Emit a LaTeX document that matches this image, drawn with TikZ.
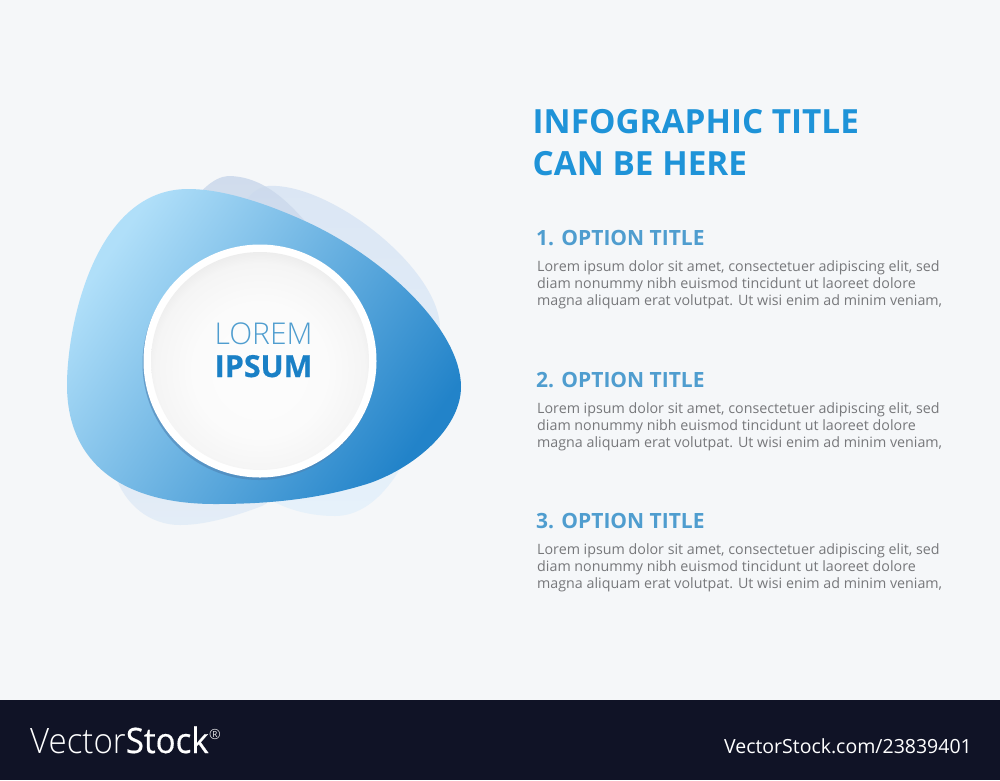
\documentclass[tikz,border=0pt]{standalone}
\usepackage{fontspec}
\setmainfont{Open Sans}
\newfontfamily\lightfont{Open Sans Light}
\newfontfamily\semifont[FakeBold=0.5]{Open Sans}
\newfontfamily\heavyfont[BoldFeatures={FakeBold=0.6}]{Open Sans}
\usepackage{xcolor}
\usetikzlibrary{positioning}
\definecolor{pagegray}{HTML}{F5F7F9}
\definecolor{barnavy}{HTML}{101326}
\definecolor{titleblue}{HTML}{1E93D8}
\definecolor{optionblue}{HTML}{4F9DCF}
\definecolor{bodygray}{HTML}{77787B}
\definecolor{loremblue}{HTML}{4F9DCF}
\definecolor{ipsumblue}{HTML}{1A80C6}
\definecolor{blobhigh}{HTML}{B0DFF9}
\definecolor{blobmid}{HTML}{7FB6E4}
\definecolor{bloblow}{HTML}{2283C9}
\definecolor{haloshadow}{HTML}{4F83B4}
\definecolor{backtop}{HTML}{CAD8EB}
\definecolor{backlow}{HTML}{E1ECF7}
\definecolor{sidetop}{HTML}{DBE6F4}
\definecolor{sidelow}{HTML}{E6F1FA}
\pgfdeclareradialshading{discshade}{\pgfpoint{0bp}{-3bp}}{%
  color(0bp)=(white!99!black);
  color(15bp)=(white!98.5!black);
  color(24bp)=(white!96!black);
  color(28bp)=(white!91!black);
  color(31bp)=(white!86!black);
  color(50bp)=(white!86!black)}
\tikzset{optiontitle/.style={anchor=base west,inner sep=0pt,text=optionblue,font=\fontsize{21}{21}\selectfont\bfseries}}
\tikzset{optionbody/.style={anchor=north west,inner sep=0pt,text=bodygray,align=left,font=\fontsize{14.27}{17}\selectfont}}
\tikzset{bigtitle/.style={anchor=base west,inner sep=0pt,text=titleblue,font=\fontsize{33.3}{33.3}\selectfont\bfseries}}
\begin{document}
\begin{tikzpicture}[x=1pt,y=-1pt]
	\useasboundingbox (0,0) rectangle (1000,780);
	\fill[pagegray] (0,0) rectangle (1000,700);
	\fill[barnavy] (0,700) rectangle (1000,780);

	\path[top color=sidetop,bottom color=sidelow] (268,186) .. controls (330,182) and (442,270) .. (440,330) .. controls (441,380) and (405,516) .. (335,516) .. controls (290,516) and (240,495) .. (220,440) .. controls (200,380) and (215,190) .. (268,186) -- cycle;
	\path[top color=backtop,bottom color=backlow,fill opacity=.85] (228,176) .. controls (262,176) and (290,200) .. (320,240) .. controls (345,290) and (300,490) .. (262,506) .. controls (225,520) and (200,525) .. (180,525) .. controls (150,525) and (125,505) .. (115,475) .. controls (100,400) and (170,180) .. (228,176) -- cycle;

	\path[top color=blobhigh,middle color=blobmid,bottom color=bloblow,shading angle=55] (188,189) .. controls (225,189) and (270,205) .. (307,222) .. controls (385,258) and (461,330) .. (461,387) .. controls (461,425) and (420,465) .. (370,483) .. controls (320,499) and (270,504) .. (215,504) .. controls (125,504) and (67,465) .. (67,385) .. controls (67,325) and (95,189) .. (188,189) -- cycle;

	\node[circle,fill=haloshadow,fill opacity=.6,minimum size=233pt,inner sep=0pt] (halodrop) at (259,363.5) {};
	\node[circle,fill=white,minimum size=233pt,inner sep=0pt] (halo) at (260,361) {};
	\node[circle,shading=discshade,minimum size=218pt,inner sep=0pt] (disc) at (260,361) {};

	\node[anchor=base,inner sep=0pt,text=loremblue,font=\fontsize{30}{30}\selectfont\lightfont] (lorem) at (263.5,344) {LOREM};
	\node[anchor=base,inner sep=0pt,text=ipsumblue,font=\fontsize{30.4}{30.4}\selectfont\heavyfont\bfseries] (ipsum) at (263.5,377) {IPSUM};

	\node[bigtitle] (titleone) at (532.5,133) {INFOGRAPHIC TITLE};
	\node[bigtitle] (titletwo) at (532.5,175) {CAN BE HERE};

	\foreach \n/\ypos in {1/245.5,2/387,3/528.5} {
		\node[optiontitle] (option\n) at (536,\ypos) {\n. OPTION TITLE};
		\node[optionbody,below=14.5pt of option\n.south west,anchor=north west,xshift=1pt] (text\n) {Lorem ipsum dolor sit amet, consectetuer adipiscing elit, sed\\diam nonummy nibh euismod tincidunt ut laoreet dolore\\magna aliquam erat volutpat. Ut wisi enim ad minim veniam,};
	}

	\node[anchor=base west,inner sep=0pt,text=white,xscale=.945,font=\fontsize{35}{35}\selectfont] (logo) at (30,753) {\lightfont Vector\semifont Stock};
	\node[inner sep=0pt,text=white,font=\fontsize{14}{14}\selectfont\lightfont,right=0pt of logo.north east,anchor=north west,yshift=-3pt] (regmark) {®};
	\node[anchor=base east,inner sep=0pt,text=white,font=\fontsize{19.5}{19.5}\selectfont] (stockid) at (972,753) {VectorStock.com/23839401};
\end{tikzpicture}
\end{document}
